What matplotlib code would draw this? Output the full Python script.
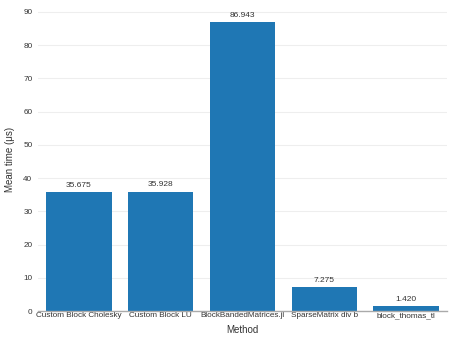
import matplotlib
matplotlib.use("Agg")
import matplotlib.pyplot as plt

methods = ["Custom Block Cholesky", "Custom Block LU", "BlockBandedMatrices.jl",
           "SparseMatrix div b", "block_thomas_tl"]
mean_us = [35.675, 35.928, 86.943, 7.275, 1.420]
yticks = [0, 10, 20, 30, 40, 50, 60, 70, 80, 90]

plt.rcParams['font.family'] = ['Liberation Sans', 'DejaVu Sans']

fig = plt.figure(figsize=(4.74, 3.38), dpi=100)
ax = fig.add_axes([38/474, 1-311/338, 409/474, 304/338])

x = list(range(len(methods)))
ax.bar(x, mean_us, width=0.8, color='#1f77b4', zorder=3)
for xi, v in zip(x, mean_us):
    ax.text(xi, v + 1.0, f"{v:.3f}", ha='center', va='bottom', fontsize=6, color='#333333')

ax.set_xlim(-0.5, len(methods) - 0.5)
ax.set_ylim(0, 91.5)
ax.set_yticks(yticks)
ax.set_xticks(x)
ax.set_xticklabels(methods)
ax.tick_params(axis='both', length=0, labelsize=5.9, colors='#333333', pad=1)
ax.tick_params(axis='y', pad=4)
ax.grid(axis='y', color='#eeeeee', linewidth=0.8, zorder=0)
for s in ['top', 'right', 'left']:
    ax.spines[s].set_visible(False)
ax.spines['bottom'].set_color('#aaaaaa')
ax.spines['bottom'].set_linewidth(1)
ax.spines['bottom'].set_zorder(4)

ax.set_xlabel("Method", fontsize=7, color='#333333', labelpad=4)
ax.set_ylabel("Mean time (μs)", fontsize=7, color='#333333', labelpad=6)

fig.savefig("out.png", dpi=100)
